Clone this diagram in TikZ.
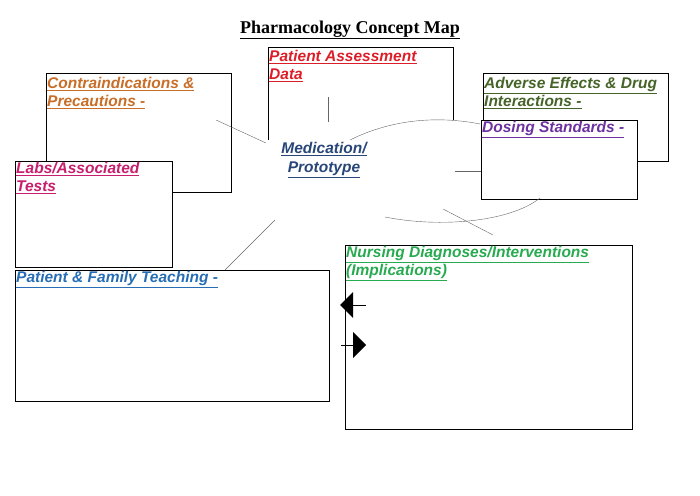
\documentclass[tikz,border=0pt]{standalone}
\usepackage{fontspec}
\setmainfont{Liberation Sans}
\newfontfamily\titlefont{Liberation Serif}
\tikzstyle{box} = [draw, fill=white, thin, inner sep=0]
\tikzstyle{lbl} = [anchor=north west, inner sep=1pt, align=left, font=\bfseries\itshape\fontsize{15.5}{18.5}\selectfont]
\tikzstyle{link} = [draw=gray!80!black, thin]
\definecolor{conorange}{RGB}{200,110,40}
\definecolor{assred}{RGB}{220,30,40}
\definecolor{advgreen}{RGB}{70,100,40}
\definecolor{dospurple}{RGB}{110,50,160}
\definecolor{labmag}{RGB}{200,30,110}
\definecolor{medblue}{RGB}{40,70,120}
\definecolor{teachblue}{RGB}{40,110,180}
\definecolor{nursgreen}{RGB}{40,170,80}
\begin{document}
\begin{tikzpicture}[x=1pt, y=-1pt]
            \useasboundingbox (0,0) rectangle (700,495);
            % Title
            \node[font=\titlefont\bfseries\fontsize{18}{21}\selectfont] (title) at (350,30) {\underline{Pharmacology Concept Map}};

            % Boxes
            \draw[thin] (268,140) -- (268,47) -- (453,47) -- (453,120);
            \node[box, minimum width=185, minimum height=119, anchor=north west] (contra) at (46,73) {};
            \node[box, minimum width=185, minimum height=88, anchor=north west] (adverse) at (483,73) {};
            \node[box, minimum width=156, minimum height=79, anchor=north west] (dosing) at (481,120) {};
            \node[box, minimum width=157, minimum height=106, anchor=north west] (labs) at (15,161) {};
            \node[box, minimum width=314, minimum height=131, anchor=north west] (teach) at (15,270) {};
            \node[box, minimum width=287, minimum height=184, anchor=north west] (nurs) at (345,245) {};

            % Labels
            \node[lbl, text=assred] (assess) at (268,49) {\underline{Patient Assessment}\\\underline{Data}};
            \node[lbl, text=conorange] at (contra.north west) [yshift=-3] {\underline{Contraindications \&}\\\underline{Precautions -}};
            \node[lbl, text=advgreen] at (adverse.north west) [yshift=-3] {\underline{Adverse Effects \& Drug}\\\underline{Interactions -}};
            \node[lbl, text=dospurple] at (dosing.north west) {\underline{Dosing Standards -}};
            \node[lbl, text=labmag] at (labs.north west) {\underline{Labs/Associated}\\\underline{Tests}};
            \node[lbl, text=teachblue] at (teach.north west) {\underline{Patient \& Family Teaching -}};
            \node[lbl, text=nursgreen] at (nurs.north west) {\underline{Nursing Diagnoses/Interventions}\\\underline{(Implications)}};
            \node[align=center, inner sep=0, text=medblue, font=\bfseries\itshape\fontsize{15.5}{18.5}\selectfont] (med) at (324,160) {\underline{Medication/}\\\underline{Prototype}};

            % Connecting lines
            \coordinate (ca) at (216,120);
            \coordinate (cb) at (266,143);
            \draw[link] (ca) -- (cb);
            \draw[link] (328,97) -- (328,122);
            \draw[link] (455,171) -- (dosing.west |- 0,171);
            \draw[link] (443,209) -- (493,235);
            \draw[link] (275,220) -- (teach.north -| 225,0);
            \draw[link] (350,140) .. controls (400,115) and (450,118) .. (480,124);
            \draw[link] (385,217) .. controls (440,228) and (510,222) .. (540,198);

            % Arrows
            \draw[thin] (366,305) -- (352,305);
            \fill (340,305) -- (353,292) -- (353,318) -- cycle;
            \draw[thin] (341,345) -- (354,345);
            \fill (366,345) -- (353,332) -- (353,358) -- cycle;
        \end{tikzpicture}
\end{document}
